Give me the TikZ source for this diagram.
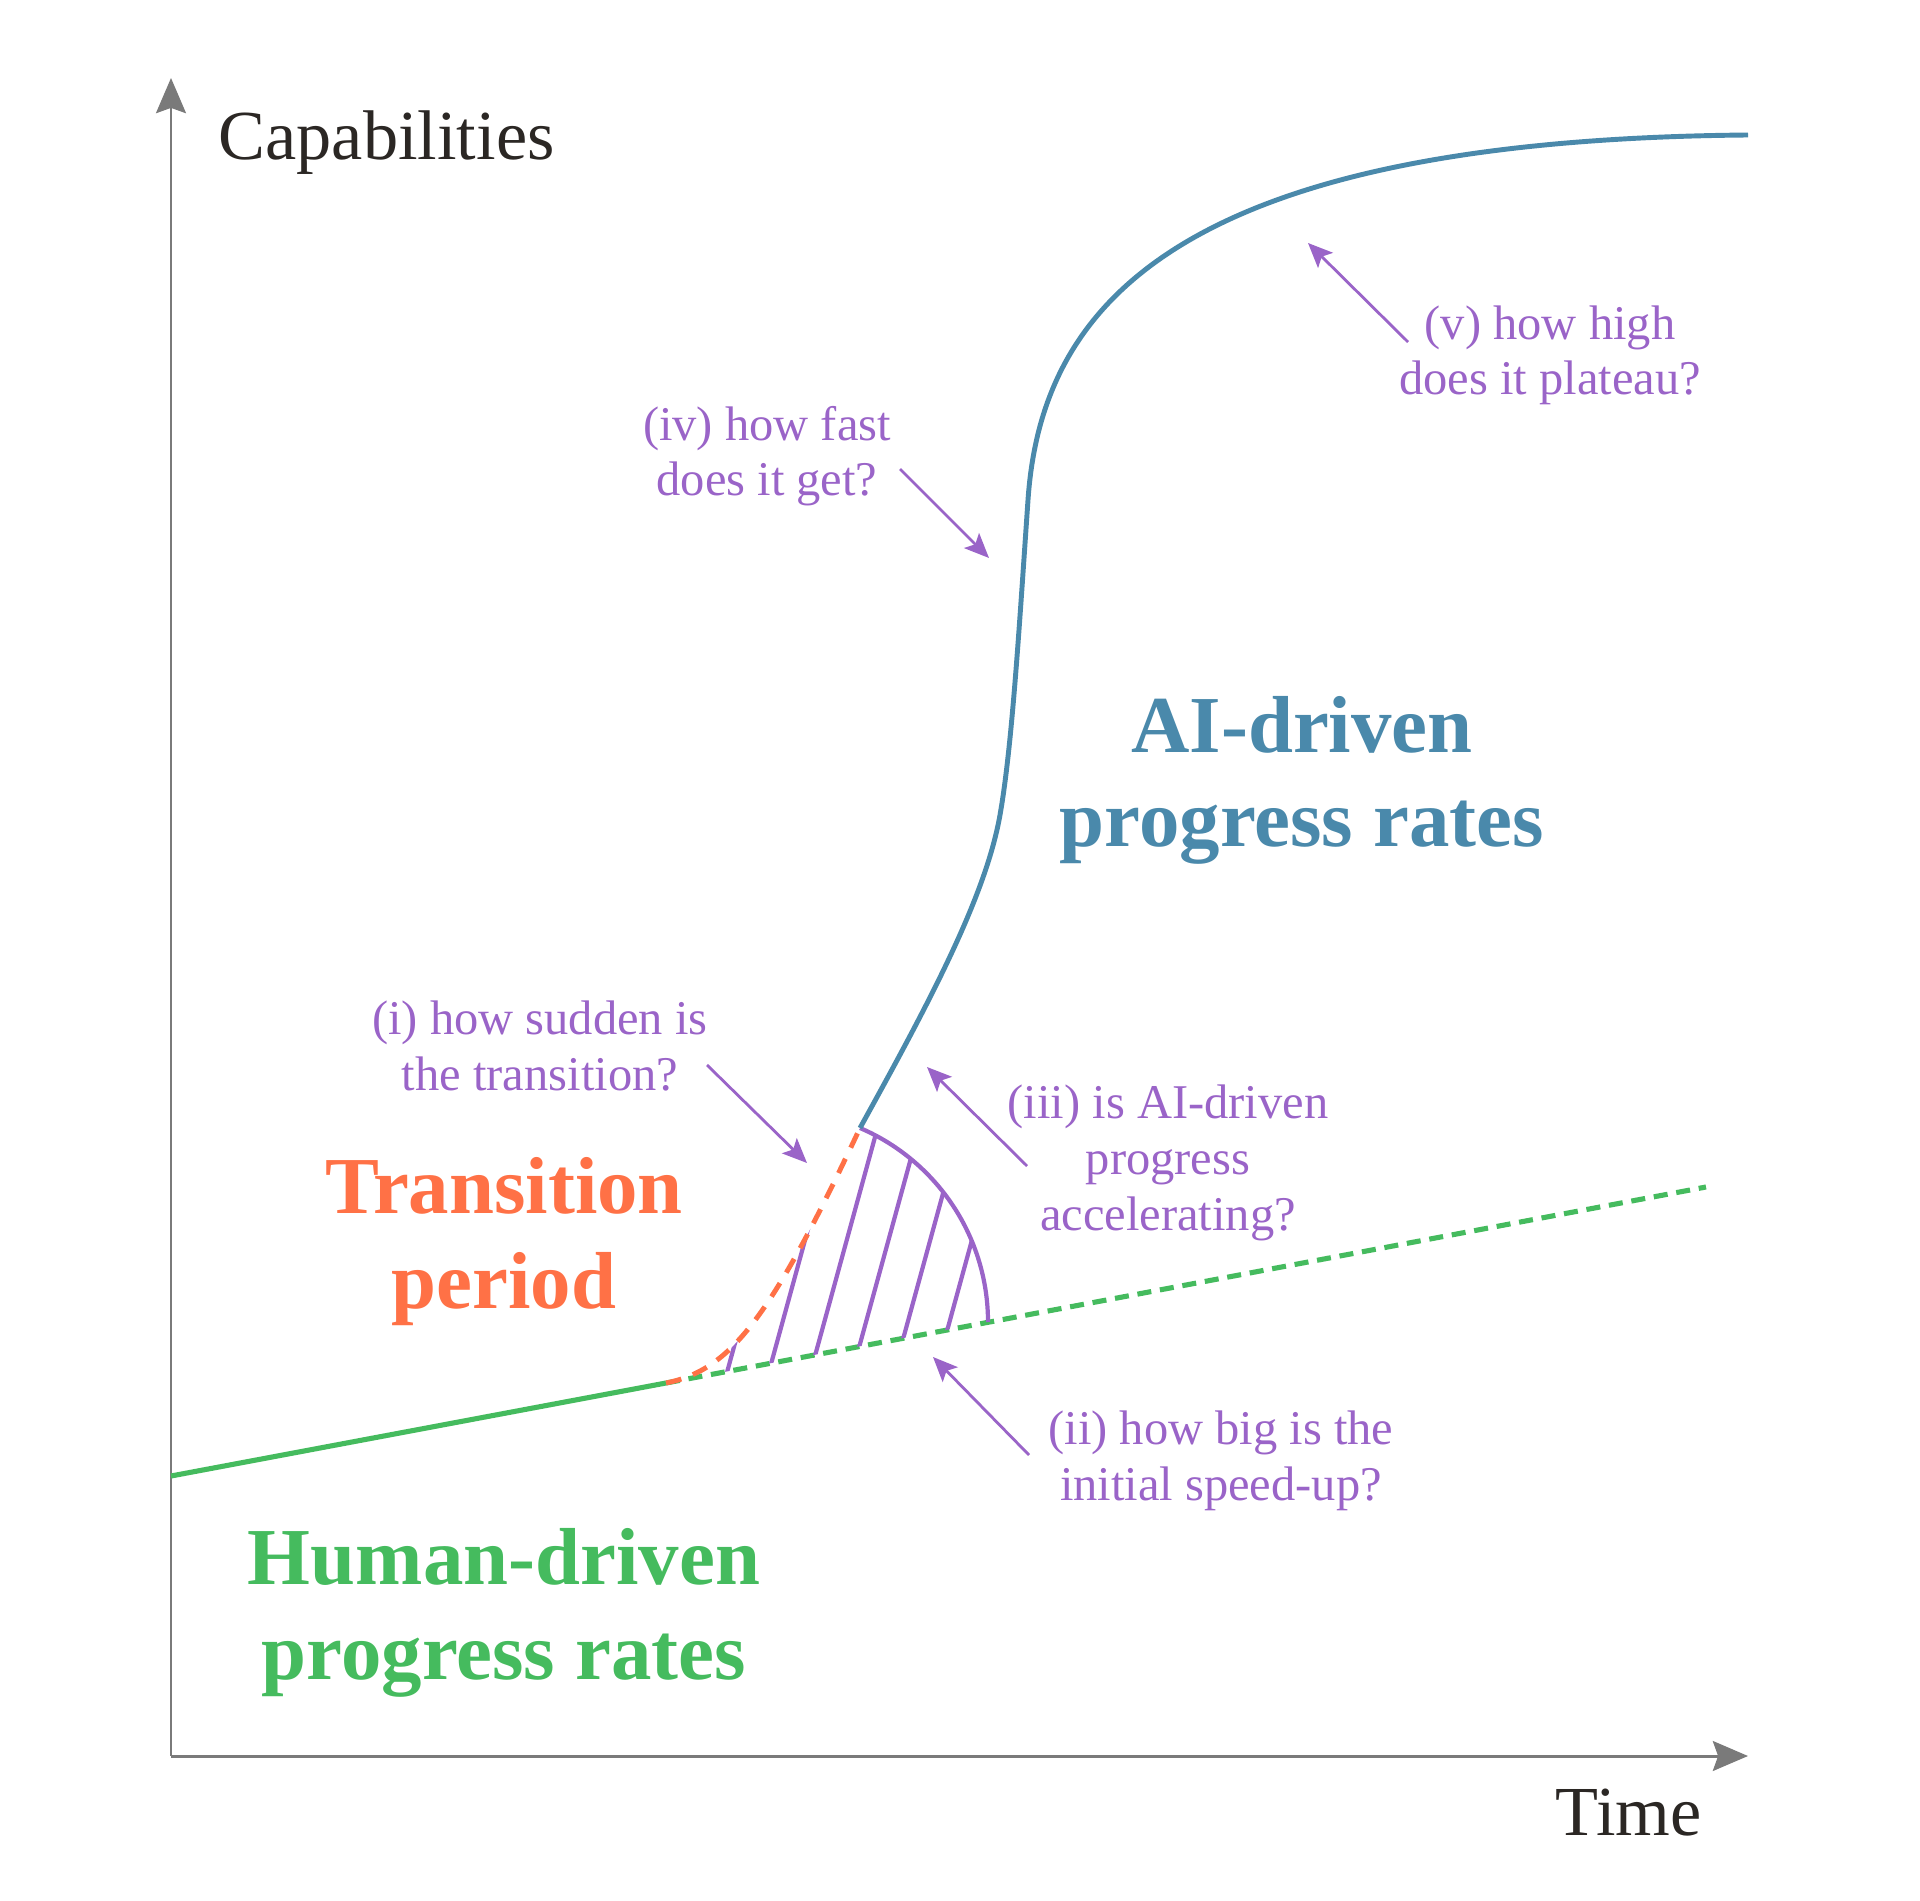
\documentclass[tikz,border=0pt]{standalone}
\usepackage{fontspec}
\setmainfont{Liberation Serif}
\usetikzlibrary{arrows.meta}
\definecolor{axc}{HTML}{7A7A7A}
\definecolor{ink}{HTML}{2B2724}
\definecolor{hum}{HTML}{45BB5E}
\definecolor{aic}{HTML}{4A89AB}
\definecolor{trn}{HTML}{FF7146}
\definecolor{qst}{HTML}{9A64C8}
\begin{document}
\begin{tikzpicture}[x=0.1mm,y=-0.1mm,
  axis/.style={axc,line width=0.85pt,-{Stealth[length=10pt,width=8.5pt,inset=1.5pt]}},
  humline/.style={hum,line width=1.45pt},
  ailine/.style={aic,line width=1.4pt},
  trline/.style={trn,line width=1.4pt,dash pattern=on 4.5pt off 3.5pt},
  hatch/.style={qst,line width=1.2pt},
  ask/.style={qst,line width=0.8pt,-{Stealth[length=7pt,width=6pt,inset=1.5pt]}},
  qtext/.style={text=qst,align=center,inner sep=0pt,anchor=base,font=\fontsize{13.8}{15.8}\selectfont},
  big/.style={align=center,inner sep=0pt,anchor=base,font=\fontsize{23}{26.8}\selectfont\bfseries},
  axlabel/.style={text=ink,inner sep=0pt,anchor=base west,font=\fontsize{20}{24}\selectfont}]
\useasboundingbox (0,0) rectangle (1920,1901);
% axes
\coordinate (O) at (171,1756);
\coordinate (ytop) at (171,78);
\coordinate (xend) at (1748,1756);
\draw[axis] (O) -- (ytop);
\draw[axis] (O) -- (xend);
\node[axlabel] (cap) at (218,160) {Capabilities};
\node[axlabel] (time) at (1555,1835) {Time};
% human-driven trend
\coordinate (hstart) at (171,1476);
\coordinate (gjoin) at (666,1383);
\coordinate (hend) at (1706,1187);
\coordinate (aistart) at (860,1128);
\coordinate (arcend) at (988,1322);
\draw[humline] (hstart) -- (gjoin);
\draw[humline,dash pattern=on 4pt off 2.5pt] (gjoin) -- (hend);
% hatched speed-up area
\begin{scope}
\clip (gjoin) .. controls (730,1370) and (770,1320) .. (aistart) .. controls (937,1161) and (988,1237) .. (arcend) -- cycle;
\foreach \hx in {727,771,...,947}
  \draw[hatch] (\hx-8,{1383-0.1879*(\hx-666)+30}) -- ++(96,-350);
\end{scope}
\draw[hatch] (aistart) .. controls (937,1161) and (988,1237) .. (arcend);
\draw[trline] (gjoin) .. controls (730,1370) and (770,1320) .. (aistart);
% AI-driven curve
\coordinate (aiend) at (1748,135);
\draw[ailine] (aistart) .. controls (925,1010) and (985,900) .. (1000,815)
  .. controls (1012,747) and (1019,630) .. (1028,500)
  .. controls (1041,310) and (1170,140) .. (aiend);
% region labels
\node[big,text=aic] (ailab) at (1302,847) {AI-driven\\progress rates};
\node[big,text=trn] (trlab) at (504,1308) {Transition\\period};
\node[big,text=hum] (humlab) at (504,1679) {Human-driven\\progress rates};
% questions
\node[qtext] (q1) at (540,1090) {(i) how sudden is\\the transition?};
\node[qtext] (q2) at (1221,1500) {(ii) how big is the\\initial speed-up?};
\node[qtext] (q3) at (1168,1230) {(iii) is AI-driven\\progress\\accelerating?};
\node[qtext] (q4) at (767,496) {(iv) how fast\\does it get?};
\node[qtext] (q5) at (1550,395) {(v) how high\\does it plateau?};
\coordinate (q1a) at (707,1065); \coordinate (q1b) at (807,1163);
\coordinate (q2a) at (1029,1455); \coordinate (q2b) at (933,1357);
\coordinate (q3a) at (1027,1166); \coordinate (q3b) at (927,1067);
\coordinate (q4a) at (900,469); \coordinate (q4b) at (989,558);
\coordinate (q5a) at (1408,342); \coordinate (q5b) at (1308,243);
\draw[ask] (q1a) -- (q1b);
\draw[ask] (q2a) -- (q2b);
\draw[ask] (q3a) -- (q3b);
\draw[ask] (q4a) -- (q4b);
\draw[ask] (q5a) -- (q5b);
\end{tikzpicture}
\end{document}
